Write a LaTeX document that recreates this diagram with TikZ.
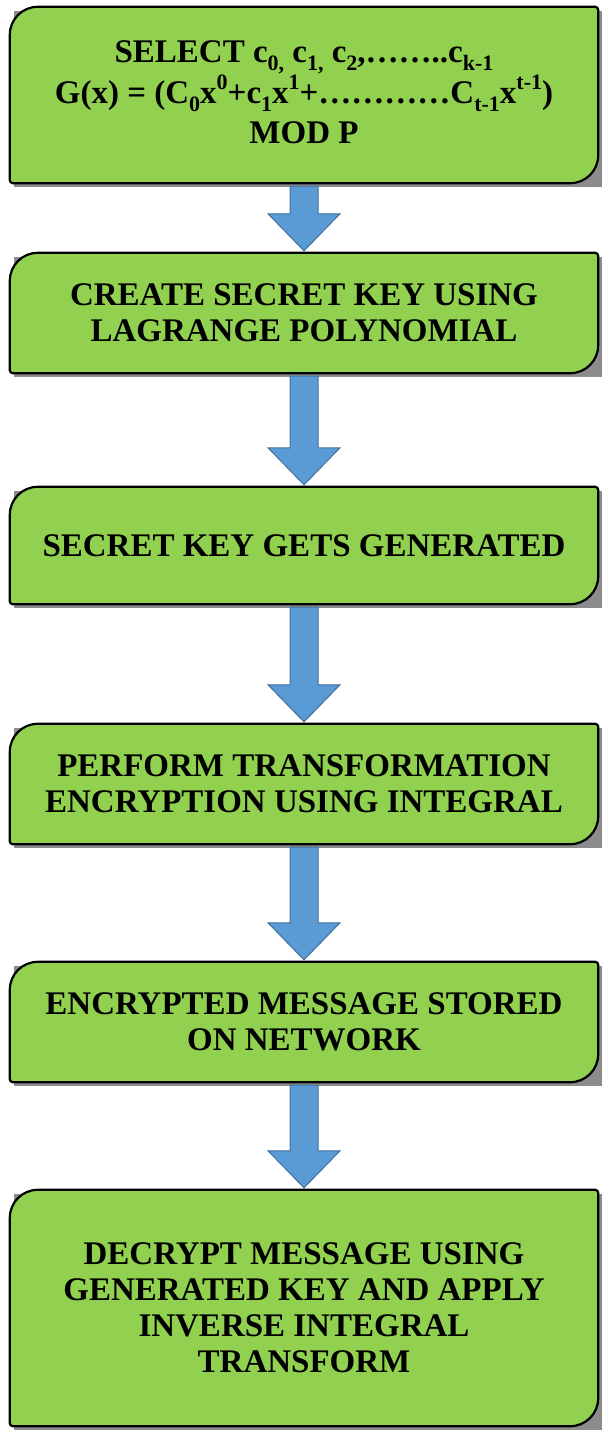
\documentclass[tikz,border=0pt]{standalone}
\usepackage{fontspec}
\setmainfont{Liberation Serif}
\usetikzlibrary{calc}
\definecolor{boxgreen}{HTML}{92D050}
\definecolor{arrblue}{HTML}{5B9BD5}
\definecolor{arredge}{HTML}{41719C}
\newcommand{\lowtxt}[1]{\raisebox{-0.25em}{\fontsize{22}{22}\selectfont #1}}
\newcommand{\hightxt}[1]{\raisebox{0.42em}{\fontsize{22}{22}\selectfont #1}}
\tikzset{
  stepbox/.style={minimum width=588pt, inner sep=0pt, align=center, font=\fontsize{33}{36}\selectfont\bfseries, text=black},
  boxshape/.style={fill=boxgreen, draw=black, line width=2.2pt},
  arrshape/.style={fill=arrblue, draw=arredge, line width=1pt, line join=miter},
}
\newcommand{\greenbox}[1]{%
  \fill[black!45] ($(#1.north west)+(4pt,-4pt)$) -- ($(#1.north east)+(4pt,-4pt)$) -- ($(#1.south east)+(4pt,-4pt)$) -- ($(#1.south west)+(4pt,-4pt)$) -- cycle;
  \draw[boxshape] ($(#1.north west)+(0,-28pt)$) to[out=90,in=180] ($(#1.north west)+(28pt,0)$)
    [rounded corners=3pt] -- (#1.north east) [sharp corners] -- ($(#1.south east)+(0,28pt)$)
    to[out=-90,in=0] ($(#1.south east)+(-28pt,0)$) [rounded corners=3pt] -- (#1.south west) [sharp corners] -- cycle;
}
\newcommand{\blockarrow}[2]{%
  \coordinate (s) at ($(#1.south)+(0,-3pt)$);
  \coordinate (e) at ($(#2.north)+(0,2pt)$);
  \draw[arrshape] ($(s)+(-14pt,0)$) -- ($(s)+(14pt,0)$) -- ($(e)+(14pt,37pt)$) -- ($(e)+(36pt,37pt)$) -- (e) -- ($(e)+(-36pt,37pt)$) -- ($(e)+(-14pt,37pt)$) -- cycle;
}
\begin{document}
\begin{tikzpicture}[x=1pt,y=1pt]
\useasboundingbox (0,0) rectangle (608,-1434);
\node[stepbox, minimum height=176pt] (b1) at (304,-95) {};
\node[stepbox, minimum height=120pt] (b2) at (304,-313) {};
\node[stepbox, minimum height=117pt] (b3) at (304,-545.5) {};
\node[stepbox, minimum height=120pt] (b4) at (304,-784) {};
\node[stepbox, minimum height=120pt] (b5) at (304,-1022) {};
\node[stepbox, minimum height=236pt] (b6) at (304,-1308) {};
\foreach \b in {b1,b2,b3,b4,b5,b6} {\greenbox{\b}}
\blockarrow{b1}{b2}
\blockarrow{b2}{b3}
\blockarrow{b3}{b4}
\blockarrow{b4}{b5}
\blockarrow{b5}{b6}
\node[stepbox, font=\fontsize{33}{40}\selectfont\bfseries] (t1) at ($(b1)+(0,3pt)$) {SELECT c\lowtxt{0,} c\lowtxt{1,} c\lowtxt{2},\dots\dots..c\lowtxt{k-1}\\
G(x) = (C\lowtxt{0}x\hightxt{0}+c\lowtxt{1}x\hightxt{1}+\dots\dots\dots\dots C\lowtxt{t-1}x\hightxt{t-1})\\ MOD P};
\node[stepbox] (t2) at (b2) {CREATE SECRET KEY USING\\LAGRANGE POLYNOMIAL};
\node[stepbox] (t3) at (b3) {SECRET KEY GETS GENERATED};
\node[stepbox] (t4) at (b4) {PERFORM TRANSFORMATION\\ENCRYPTION USING INTEGRAL};
\node[stepbox] (t5) at (b5) {ENCRYPTED MESSAGE STORED\\ON NETWORK};
\node[stepbox] (t6) at (b6) {DECRYPT MESSAGE USING\\GENERATED KEY AND APPLY\\INVERSE INTEGRAL\\TRANSFORM};
\end{tikzpicture}
\end{document}
